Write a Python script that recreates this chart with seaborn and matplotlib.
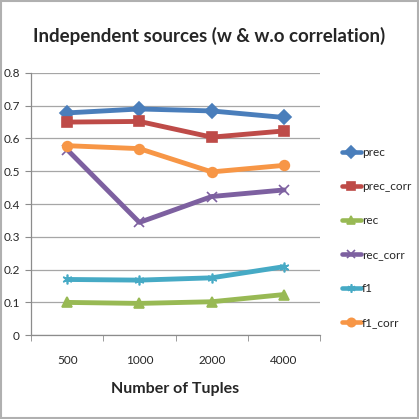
import pandas as pd
import matplotlib
matplotlib.use('Agg')
import matplotlib.pyplot as plt
import seaborn as sns

tuples = ['500', '1000', '2000', '4000']
prec = [0.678, 0.690, 0.684, 0.664]
prec_corr = [0.650, 0.652, 0.604, 0.623]
rec = [0.100, 0.097, 0.102, 0.124]
rec_corr = [0.566, 0.344, 0.423, 0.443]
f1 = [0.170, 0.168, 0.175, 0.209]
f1_corr = [0.578, 0.569, 0.498, 0.518]

names = ['prec', 'prec_corr', 'rec', 'rec_corr', 'f1', 'f1_corr']
series = [prec, prec_corr, rec, rec_corr, f1, f1_corr]
colors = ['#4a7ebb', '#be4b48', '#98b954', '#7d60a0', '#46aac5', '#f79646']
markers = ['D', 's', '^', 'x', (6, 2, 0), 'o']

sns.set_style('white')
plt.rcParams['font.family'] = ['Lato', 'DejaVu Sans']

fig = plt.figure(figsize=(4.19, 4.19), dpi=100)
ax = fig.add_axes([0.074, 0.200, 0.690, 0.626])

# one lineplot per series (filled and line markers can't be mixed in one call)
for n, vals, c, m in zip(names, series, colors, markers):
    d = pd.DataFrame({'tuples': tuples, 'value': vals})
    sns.lineplot(data=d, x='tuples', y='value', color=c, marker=m,
                 linewidth=3.5, markersize=7, markeredgewidth=1.2,
                 markeredgecolor=c, sort=False, ax=ax)

ax.set_xlim(-0.5, 3.5)
ax.set_ylim(0, 0.8)
ax.set_yticks([i / 10 for i in range(9)])
ax.set_yticklabels(['0'] + ['%.1f' % (i / 10) for i in range(1, 9)])
ax.yaxis.grid(True, color='#a6a6a6', linewidth=0.9)
ax.set_axisbelow(True)
for s in ['top', 'right']:
    ax.spines[s].set_visible(False)
for s in ['left', 'bottom']:
    ax.spines[s].set_color('#8c8c8c')
    ax.spines[s].set_linewidth(0.9)
ax.tick_params(axis='y', left=True, length=4, color='#8c8c8c', labelsize=8.5, pad=4)
ax.set_xticks(range(4))
ax.set_xticklabels(tuples)
ax.set_xticks([-0.5, 0.5, 1.5, 2.5, 3.5], minor=True)
ax.tick_params(axis='x', which='major', bottom=False, labelsize=8.5, pad=11)
ax.tick_params(axis='x', which='minor', bottom=True, length=4, color='#8c8c8c')
ax.set_xlabel('Number of Tuples', fontsize=11.5, fontweight='bold', labelpad=11)
ax.set_ylabel('')

fig.suptitle('Independent sources (w & w.o correlation)', x=0.5, y=0.935,
             fontsize=13.5, fontweight='bold')

handles = [plt.Line2D([], [], color=c, marker=m, linewidth=3.3, markersize=6,
                      markeredgewidth=1.2) for c, m in zip(colors, markers)]
fig.legend(handles, names, loc='upper left', bbox_to_anchor=(0.79, 0.675),
           frameon=False, fontsize=8.5, handlelength=1.6, handletextpad=0.1,
           labelspacing=1.95)

fig.patches.append(plt.Rectangle((0.003, 0.003), 0.994, 0.994, transform=fig.transFigure,
                                 fill=False, edgecolor='#b0b0b0', linewidth=1.5))

fig.savefig('out.png', dpi=100)
